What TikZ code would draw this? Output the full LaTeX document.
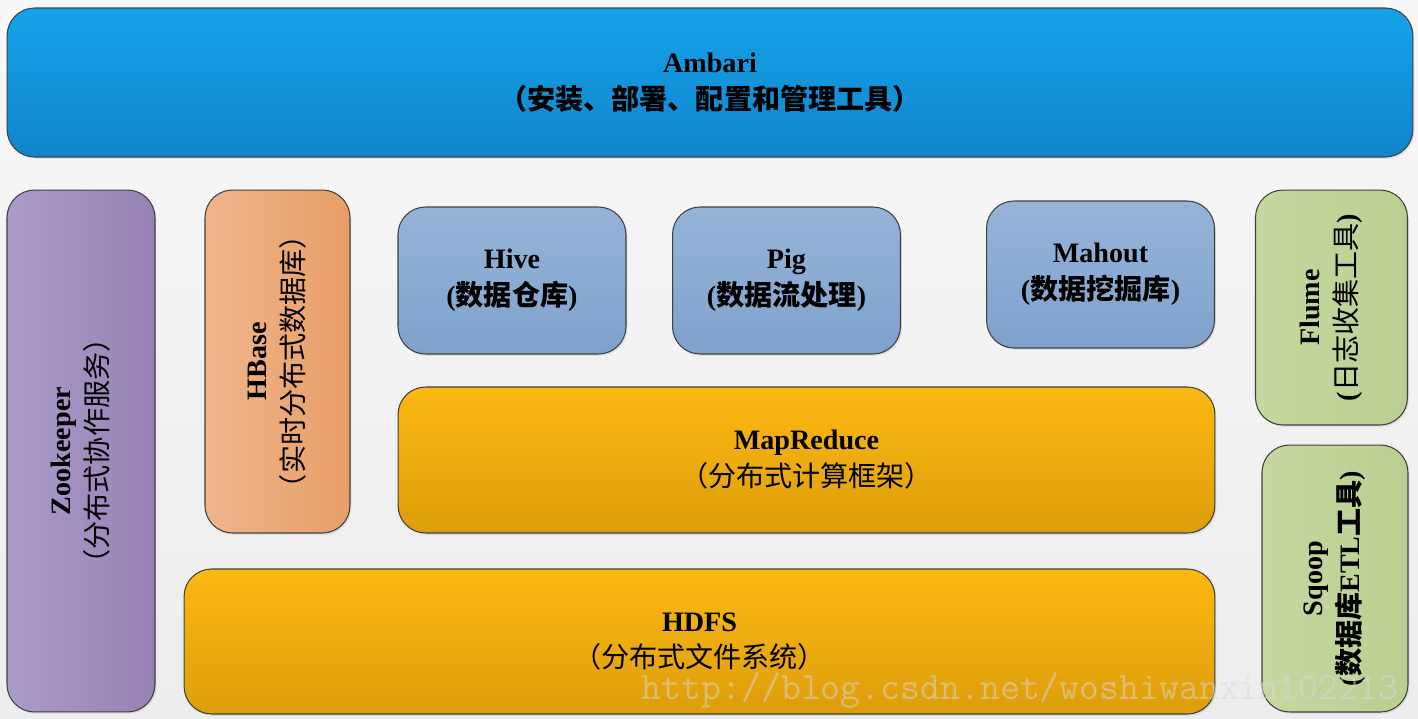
\documentclass[tikz,border=0pt]{standalone}
\usepackage{fontspec}
\setmainfont{Liberation Serif}
\newfontfamily\cjk{Noto Sans CJK SC}
\usetikzlibrary{shadows}

\definecolor{bgtop}{HTML}{F8F8F8}
\definecolor{bgbot}{HTML}{EDEDED}
\definecolor{ambaritop}{HTML}{15A2EA}
\definecolor{ambaribot}{HTML}{1185CB}
\definecolor{zooleft}{HTML}{AA9CCA}
\definecolor{zooright}{HTML}{9682B4}
\definecolor{hbaseleft}{HTML}{F0B68C}
\definecolor{hbaseright}{HTML}{E89E68}
\definecolor{tooltop}{HTML}{96B4D8}
\definecolor{toolbot}{HTML}{7EA2CC}
\definecolor{coretop}{HTML}{FDB913}
\definecolor{corebot}{HTML}{DC9E0A}
\definecolor{ingestl}{HTML}{C6D8A0}
\definecolor{ingestr}{HTML}{BBCF92}

\newcommand{\zh}[1]{{\cjk\mdseries #1}}
\newcommand{\zhb}[1]{{\cjk #1}}

\tikzset{
  box/.style={draw=black!75, line width=0.6pt, rounded corners=0.55cm,
    align=center, inner sep=0pt,
    font=\fontsize{16}{21}\selectfont\bfseries,
    drop shadow={opacity=0.18, shadow xshift=0.8pt, shadow yshift=-1pt}},
  ambaribox/.style={box, top color=ambaritop, bottom color=ambaribot},
  zoobox/.style={box, rotate=90, left color=zooleft, right color=zooright},
  hbasebox/.style={box, rotate=90, left color=hbaseleft, right color=hbaseright},
  toolbox/.style={box, top color=tooltop, bottom color=toolbot,
    minimum width=4.56cm, minimum height=2.94cm},
  corebox/.style={box, top color=coretop, bottom color=corebot},
  ingestbox/.style={box, rotate=90, left color=ingestl, right color=ingestr},
  watermark/.style={text=black!15, opacity=0.5, inner sep=0pt,
    font=\ttfamily\fontsize{22}{22}\selectfont}
}

\begin{document}
\begin{tikzpicture}[x=0.02cm, y=-0.02cm]
  \shade[top color=bgtop, bottom color=bgbot] (0,0) rectangle (1418,718);
  \useasboundingbox (0,0) rectangle (1418,718);

  \node[ambaribox, minimum width=28.12cm, minimum height=2.98cm] (ambari) at (710,82.5)
    {Ambari\\\zhb{（安装、部署、配置和管理工具）}};

  \node[zoobox, minimum width=10.44cm, minimum height=2.96cm] (zoo) at (81,451)
    {Zookeeper\\\zh{（分布式协作服务）}};
  \node[hbasebox, minimum width=6.86cm, minimum height=2.9cm] (hbase) at (277.5,361.5)
    {HBase\\\zh{（实时分布式数据库）}};

  \node[toolbox] (hive) at (512,280.5) {Hive\\(\zhb{数据仓库})};
  \node[toolbox] (pig) at (786.5,280.5) {Pig\\(\zhb{数据流处理})};
  \node[toolbox] (mahout) at (1100.5,274.5) {Mahout\\(\zhb{数据挖掘库})};

  \node[corebox, minimum width=16.34cm, minimum height=2.92cm] (mapreduce) at (806.5,460)
    {MapReduce\\\zh{（分布式计算框架）}};
  \node[corebox, minimum width=20.62cm, minimum height=2.9cm] (hdfs) at (699.5,641.5)
    {HDFS\\\zh{（分布式文件系统）}};

  \node[ingestbox, minimum width=4.7cm, minimum height=3.04cm] (flume) at (1331.5,307.5)
    {Flume\\(\zh{日志收集工具})};
  \node[ingestbox, minimum width=5.34cm, minimum height=2.92cm] (sqoop) at (1335,578.5)
    {Sqoop\\(\zhb{数据库}ETL\zhb{工具})};

  % watermark
  \node[watermark] (wm) at (1020,691) {http://blog.csdn.net/woshiwanxin102213};
\end{tikzpicture}
\end{document}
